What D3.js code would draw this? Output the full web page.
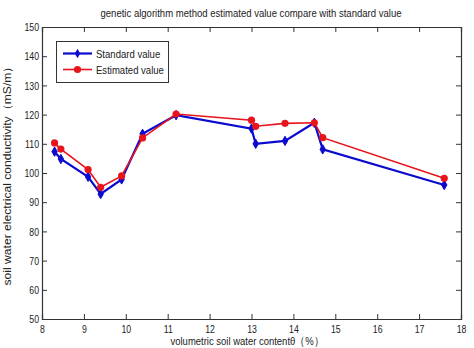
<!DOCTYPE html>
<html><head><meta charset="utf-8">
<script src="https://cdn.jsdelivr.net/npm/d3@7"></script>
<style>
html,body{margin:0;padding:0;background:#fff;overflow:hidden}
text{font-family:"Liberation Sans",Arial,sans-serif;fill:#222}
</style></head><body>
<svg id="c" width="474" height="348"></svg>
<script>
const xValues = [8.3, 8.45, 9.1, 9.4, 9.9, 10.4, 11.2, 13.0, 13.1, 13.8, 14.5, 14.7, 17.6];
const standardValues = [107.3, 104.8, 98.7, 92.8, 97.8, 113.4, 119.8, 115.2, 110.0, 111.0, 117.2, 108.1, 95.9];
const estimatedValues = [110.3, 108.2, 101.2, 95.1, 99.0, 112.0, 120.2, 118.1, 116.0, 117.0, 117.2, 112.1, 98.2];
const xTicks = [8, 9, 10, 11, 12, 13, 14, 15, 16, 17, 18];
const yTicks = [50, 60, 70, 80, 90, 100, 110, 120, 130, 140, 150];
const seriesNames = ["Standard value", "Estimated value"];
const titleText = "genetic algorithm method estimated value compare with standard value";
const xLabel = "volumetric soil water contentθ（%）";
const yLabel = "soil water electrical conductivity（mS/m）";

const svg = d3.select("#c");
const L = 42, R = 461, T = 27, B = 319;
const x = d3.scaleLinear().domain([8, 18]).range([L, R]);
const y = d3.scaleLinear().domain([50, 150]).range([B, T]);
const blue = "#0b0bd0", red = "#e8141c", axisCol = "#333";

function condense(sel, factor) {
  sel.each(function () {
    const len = this.getComputedTextLength();
    d3.select(this).attr("textLength", len * factor).attr("lengthAdjust", "spacingAndGlyphs");
  });
}

// title
const title = svg.append("text").attr("x", 251).attr("y", 17).attr("text-anchor", "middle")
  .style("font-size", "11.5px").text(titleText);
title.attr("textLength", 301).attr("lengthAdjust", "spacingAndGlyphs");

// axes (MATLAB style, inward ticks on all sides)
const tl = 5;
const g = svg.append("g");
const xb = g.append("g").attr("transform", `translate(0,${B})`)
  .call(d3.axisBottom(x).tickValues(xTicks).tickSize(-tl).tickPadding(6).tickFormat(d3.format("d")));
g.append("g").attr("transform", `translate(0,${T})`)
  .call(d3.axisTop(x).tickValues(xTicks).tickSize(-tl).tickFormat(""));
const yl = g.append("g").attr("transform", `translate(${L},0)`)
  .call(d3.axisLeft(y).tickValues(yTicks).tickSize(-tl).tickPadding(3).tickFormat(d3.format("d")));
g.append("g").attr("transform", `translate(${R},0)`)
  .call(d3.axisRight(y).tickValues(yTicks).tickSize(-tl).tickFormat(""));
g.selectAll(".domain").attr("stroke", axisCol).attr("stroke-width", 1.2);
g.selectAll(".tick line").attr("stroke", axisCol);
g.selectAll(".tick text").style("font-size", "11.5px").attr("fill", "#222");
condense(g.selectAll(".tick text"), 0.76);

// axis labels
svg.append("text").attr("x", 247).attr("y", 345).attr("text-anchor", "middle")
  .style("font-size", "11.5px").text(xLabel)
  .attr("textLength", 153).attr("lengthAdjust", "spacingAndGlyphs");
svg.append("text").attr("transform", `translate(11,${(T + B) / 2}) rotate(-90)`)
  .attr("text-anchor", "middle").style("font-size", "11px").text(yLabel)
  .attr("textLength", 225).attr("lengthAdjust", "spacingAndGlyphs");

const line = d3.line().x((d, i) => x(xValues[i])).y(d => y(d));
const diamond = (cx, cy, s) => `M${cx},${cy - s * 1.3}L${cx + s * 0.75},${cy}L${cx},${cy + s * 1.3}L${cx - s * 0.75},${cy}Z`;

// standard series
svg.append("path").datum(standardValues).attr("d", line).attr("fill", "none")
  .attr("stroke", blue).attr("stroke-width", 2.2);
svg.append("g").selectAll("path").data(standardValues).join("path")
  .attr("d", (d, i) => diamond(x(xValues[i]), y(d), 3.6)).attr("fill", blue).attr("stroke", blue);

// estimated series
svg.append("path").datum(estimatedValues).attr("d", line).attr("fill", "none")
  .attr("stroke", red).attr("stroke-width", 1.6);
svg.append("g").selectAll("circle").data(estimatedValues).join("circle")
  .attr("cx", (d, i) => x(xValues[i])).attr("cy", d => y(d)).attr("r", 3.6).attr("fill", red);

// legend
const lg = svg.append("g");
lg.append("rect").attr("x", 56.5).attr("y", 41.5).attr("width", 112).attr("height", 41)
  .attr("fill", "#fff").attr("stroke", axisCol).attr("stroke-width", 1);
const ly = [53.5, 69.5], cols = [blue, red];
seriesNames.forEach((n, i) => {
  lg.append("line").attr("x1", 63).attr("x2", 92).attr("y1", ly[i]).attr("y2", ly[i])
    .attr("stroke", cols[i]).attr("stroke-width", i === 0 ? 2.2 : 1.6);
  if (i === 0) lg.append("path").attr("d", diamond(77.5, ly[i], 3.6)).attr("fill", blue);
  else lg.append("circle").attr("cx", 77.5).attr("cy", ly[i]).attr("r", 3.6).attr("fill", red);
  const t = lg.append("text").attr("x", 96).attr("y", ly[i] + 4).style("font-size", "11.5px").text(n);
  condense(t, 0.83);
});
</script>
</body></html>
